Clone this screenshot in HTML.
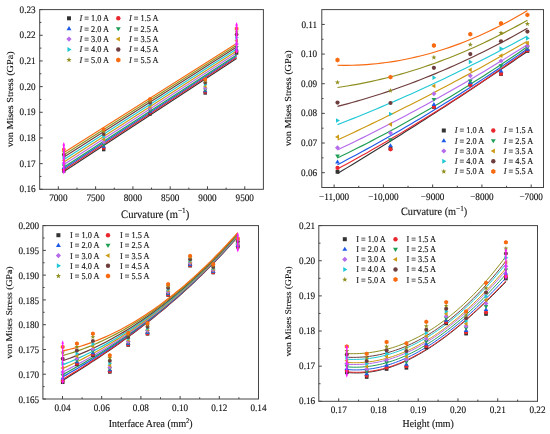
<!DOCTYPE html>
<html><head><meta charset="utf-8"><style>
html,body{margin:0;padding:0;background:#fff;}
svg{display:block;filter:blur(0.45px);}
text{font-family:'Liberation Serif', serif;fill:#111111;stroke:#111111;stroke-width:0.12px;text-rendering:geometricPrecision;}
</style></head><body>
<svg width="550" height="434" viewBox="0 0 550 434">
<rect width="550" height="434" fill="#fff"/>
<rect x="39.70" y="9.60" width="223.70" height="179.70" fill="none" stroke="#444444" stroke-width="1"/>
<path d="M58.34,189.30v-3.0M95.62,189.30v-3.0M132.91,189.30v-3.0M170.19,189.30v-3.0M207.47,189.30v-3.0M244.76,189.30v-3.0M76.98,189.30v-1.7M114.27,189.30v-1.7M151.55,189.30v-1.7M188.83,189.30v-1.7M226.12,189.30v-1.7M39.70,189.30h3.0M39.70,163.63h3.0M39.70,137.96h3.0M39.70,112.29h3.0M39.70,86.61h3.0M39.70,60.94h3.0M39.70,35.27h3.0M39.70,9.60h3.0M39.70,176.46h1.7M39.70,150.79h1.7M39.70,125.12h1.7M39.70,99.45h1.7M39.70,73.78h1.7M39.70,48.11h1.7M39.70,22.44h1.7" stroke="#444444" stroke-width="1" fill="none"/>
<text transform="translate(58.34,200.70) scale(1,1.08)" font-size="9.2" text-anchor="middle" >7000</text>
<text transform="translate(95.62,200.70) scale(1,1.08)" font-size="9.2" text-anchor="middle" >7500</text>
<text transform="translate(132.91,200.70) scale(1,1.08)" font-size="9.2" text-anchor="middle" >8000</text>
<text transform="translate(170.19,200.70) scale(1,1.08)" font-size="9.2" text-anchor="middle" >8500</text>
<text transform="translate(207.47,200.70) scale(1,1.08)" font-size="9.2" text-anchor="middle" >9000</text>
<text transform="translate(244.76,200.70) scale(1,1.08)" font-size="9.2" text-anchor="middle" >9500</text>
<text transform="translate(35.70,192.40) scale(1,1.08)" font-size="9.2" text-anchor="end" >0.16</text>
<text transform="translate(35.70,166.73) scale(1,1.08)" font-size="9.2" text-anchor="end" >0.17</text>
<text transform="translate(35.70,141.06) scale(1,1.08)" font-size="9.2" text-anchor="end" >0.18</text>
<text transform="translate(35.70,115.39) scale(1,1.08)" font-size="9.2" text-anchor="end" >0.19</text>
<text transform="translate(35.70,89.71) scale(1,1.08)" font-size="9.2" text-anchor="end" >0.20</text>
<text transform="translate(35.70,64.04) scale(1,1.08)" font-size="9.2" text-anchor="end" >0.21</text>
<text transform="translate(35.70,38.37) scale(1,1.08)" font-size="9.2" text-anchor="end" >0.22</text>
<text transform="translate(35.70,12.70) scale(1,1.08)" font-size="9.2" text-anchor="end" >0.23</text>
<text transform="translate(13.30,99.40) scale(0.9,1) rotate(-90)" x="0" y="0" font-size="10.2" text-anchor="middle">von Mises Stress (GPa)</text>
<text transform="translate(121.1,217.5) scale(1,1.08)" font-size="10.6">Curvature (m<tspan font-size="7.4" dy="-3.9">−1</tspan><tspan dy="3.9">)</tspan></text>
<rect x="67.00" y="16.30" width="4.00" height="4.00" fill="#333333"/>
<text transform="translate(79.50,21.20) scale(1,1.08)" font-size="8.3"><tspan font-style="italic">I</tspan> = 1.0 A</text>
<circle cx="118.30" cy="18.30" r="2.20" fill="#e8282e"/>
<text transform="translate(129.00,21.20) scale(1,1.08)" font-size="8.3"><tspan font-style="italic">I</tspan> = 1.5 A</text>
<path d="M69.00,26.10L71.47,30.26L66.53,30.26Z" fill="#1f5ae6"/>
<text transform="translate(79.50,31.60) scale(1,1.08)" font-size="8.3"><tspan font-style="italic">I</tspan> = 2.0 A</text>
<path d="M118.30,31.30L120.77,27.14L115.83,27.14Z" fill="#1f9e55"/>
<text transform="translate(129.00,31.60) scale(1,1.08)" font-size="8.3"><tspan font-style="italic">I</tspan> = 2.5 A</text>
<path d="M69.00,36.50L71.60,39.10L69.00,41.70L66.40,39.10Z" fill="#b56bea"/>
<text transform="translate(79.50,42.00) scale(1,1.08)" font-size="8.3"><tspan font-style="italic">I</tspan> = 3.0 A</text>
<path d="M115.70,39.10L119.86,36.63L119.86,41.57Z" fill="#cc9a14"/>
<text transform="translate(129.00,42.00) scale(1,1.08)" font-size="8.3"><tspan font-style="italic">I</tspan> = 3.5 A</text>
<path d="M71.60,49.50L67.44,47.03L67.44,51.97Z" fill="#1fc8d4"/>
<text transform="translate(79.50,52.40) scale(1,1.08)" font-size="8.3"><tspan font-style="italic">I</tspan> = 4.0 A</text>
<circle cx="118.30" cy="49.50" r="2.20" fill="#6e3d3d"/>
<text transform="translate(129.00,52.40) scale(1,1.08)" font-size="8.3"><tspan font-style="italic">I</tspan> = 4.5 A</text>
<polygon points="69.00,57.10 69.68,58.97 71.66,59.03 70.09,60.26 70.65,62.17 69.00,61.05 67.35,62.17 67.91,60.26 66.34,59.03 68.32,58.97" fill="#8f8f1f"/>
<text transform="translate(79.50,62.80) scale(1,1.08)" font-size="8.3"><tspan font-style="italic">I</tspan> = 5.0 A</text>
<polygon points="118.30,57.40 120.47,58.65 120.47,61.15 118.30,62.40 116.13,61.15 116.13,58.65" fill="#f76a10"/>
<text transform="translate(129.00,62.80) scale(1,1.08)" font-size="8.3"><tspan font-style="italic">I</tspan> = 5.5 A</text>
<path d="M64.00,171.50L236.60,58.50" stroke="#333333" stroke-width="1.1" fill="none"/>
<path d="M64.00,170.00L236.60,57.31" stroke="#e8282e" stroke-width="1.1" fill="none"/>
<path d="M64.00,168.50L236.60,56.13" stroke="#1f5ae6" stroke-width="1.1" fill="none"/>
<path d="M64.00,167.00L236.60,54.95" stroke="#1f9e55" stroke-width="1.1" fill="none"/>
<path d="M64.00,164.51L236.60,52.98" stroke="#b56bea" stroke-width="1.1" fill="none"/>
<path d="M64.00,162.00L236.60,51.00" stroke="#cc9a14" stroke-width="1.1" fill="none"/>
<path d="M64.00,159.49L236.60,49.02" stroke="#1fc8d4" stroke-width="1.1" fill="none"/>
<path d="M64.00,157.00L236.60,47.05" stroke="#6e3d3d" stroke-width="1.1" fill="none"/>
<path d="M64.00,154.80L236.60,45.31" stroke="#8f8f1f" stroke-width="1.1" fill="none"/>
<path d="M64.00,152.50L236.60,43.50" stroke="#f76a10" stroke-width="1.1" fill="none"/>
<rect x="62.10" y="169.30" width="3.40" height="3.40" fill="#333333"/>
<circle cx="63.80" cy="169.30" r="1.87" fill="#e8282e"/>
<path d="M63.80,165.39L65.90,168.93L61.70,168.93Z" fill="#1f5ae6"/>
<path d="M63.80,168.11L65.90,164.58L61.70,164.58Z" fill="#1f9e55"/>
<path d="M63.80,160.88L66.01,163.09L63.80,165.30L61.59,163.09Z" fill="#b56bea"/>
<path d="M61.59,160.25L65.13,158.15L65.13,162.35Z" fill="#cc9a14"/>
<path d="M66.01,157.41L62.47,155.31L62.47,159.51Z" fill="#1fc8d4"/>
<circle cx="63.80" cy="154.60" r="1.87" fill="#6e3d3d"/>
<polygon points="63.80,149.72 64.37,151.31 66.06,151.37 64.73,152.40 65.20,154.03 63.80,153.08 62.40,154.03 62.87,152.40 61.54,151.37 63.23,151.31" fill="#8f8f1f"/>
<polygon points="63.80,147.38 65.64,148.44 65.64,150.56 63.80,151.62 61.96,150.56 61.96,148.44" fill="#f76a10"/>
<rect x="102.00" y="147.90" width="3.40" height="3.40" fill="#333333"/>
<circle cx="103.70" cy="147.99" r="1.87" fill="#e8282e"/>
<path d="M103.70,144.17L105.80,147.70L101.60,147.70Z" fill="#1f5ae6"/>
<path d="M103.70,146.98L105.80,143.44L101.60,143.44Z" fill="#1f9e55"/>
<path d="M103.70,139.88L105.91,142.09L103.70,144.30L101.49,142.09Z" fill="#b56bea"/>
<path d="M101.49,139.40L105.03,137.30L105.03,141.50Z" fill="#cc9a14"/>
<path d="M105.91,136.71L102.37,134.61L102.37,138.81Z" fill="#1fc8d4"/>
<circle cx="103.70" cy="134.03" r="1.87" fill="#6e3d3d"/>
<polygon points="103.70,129.29 104.27,130.88 105.96,130.93 104.63,131.97 105.10,133.59 103.70,132.65 102.30,133.59 102.77,131.97 101.44,130.93 103.13,130.88" fill="#8f8f1f"/>
<polygon points="103.70,127.07 105.54,128.14 105.54,130.26 103.70,131.32 101.86,130.26 101.86,128.14" fill="#f76a10"/>
<rect x="148.40" y="112.30" width="3.40" height="3.40" fill="#333333"/>
<circle cx="150.10" cy="112.82" r="1.87" fill="#e8282e"/>
<path d="M150.10,109.44L152.20,112.97L148.00,112.97Z" fill="#1f5ae6"/>
<path d="M150.10,112.68L152.20,109.14L148.00,109.14Z" fill="#1f9e55"/>
<path d="M150.10,106.31L152.31,108.52L150.10,110.73L147.89,108.52Z" fill="#b56bea"/>
<path d="M147.89,106.55L151.43,104.45L151.43,108.65Z" fill="#cc9a14"/>
<path d="M152.31,104.58L148.77,102.48L148.77,106.68Z" fill="#1fc8d4"/>
<circle cx="150.10" cy="102.63" r="1.87" fill="#6e3d3d"/>
<polygon points="150.10,98.52 150.67,100.11 152.36,100.17 151.03,101.20 151.50,102.83 150.10,101.88 148.70,102.83 149.17,101.20 147.84,100.17 149.53,100.11" fill="#8f8f1f"/>
<polygon points="150.10,96.97 151.94,98.04 151.94,100.16 150.10,101.22 148.26,100.16 148.26,98.04" fill="#f76a10"/>
<rect x="203.50" y="91.30" width="3.40" height="3.40" fill="#333333"/>
<circle cx="205.20" cy="91.92" r="1.87" fill="#e8282e"/>
<path d="M205.20,88.63L207.30,92.16L203.10,92.16Z" fill="#1f5ae6"/>
<path d="M205.20,91.96L207.30,88.43L203.10,88.43Z" fill="#1f9e55"/>
<path d="M205.20,85.75L207.41,87.96L205.20,90.17L202.99,87.96Z" fill="#b56bea"/>
<path d="M202.99,86.15L206.53,84.05L206.53,88.25Z" fill="#cc9a14"/>
<path d="M207.41,84.34L203.87,82.24L203.87,86.44Z" fill="#1fc8d4"/>
<circle cx="205.20" cy="82.55" r="1.87" fill="#6e3d3d"/>
<polygon points="205.20,78.58 205.77,80.17 207.46,80.22 206.13,81.26 206.60,82.88 205.20,81.94 203.80,82.88 204.27,81.26 202.94,80.22 204.63,80.17" fill="#8f8f1f"/>
<polygon points="205.20,77.17 207.04,78.24 207.04,80.36 205.20,81.42 203.36,80.36 203.36,78.24" fill="#f76a10"/>
<rect x="234.90" y="51.30" width="3.40" height="3.40" fill="#333333"/>
<circle cx="236.60" cy="51.07" r="1.87" fill="#e8282e"/>
<path d="M236.60,46.93L238.70,50.47L234.50,50.47Z" fill="#1f5ae6"/>
<path d="M236.60,49.43L238.70,45.89L234.50,45.89Z" fill="#1f9e55"/>
<path d="M236.60,41.81L238.81,44.02L236.60,46.23L234.39,44.02Z" fill="#b56bea"/>
<path d="M234.39,40.80L237.93,38.70L237.93,42.90Z" fill="#cc9a14"/>
<path d="M238.81,37.58L235.27,35.48L235.27,39.68Z" fill="#1fc8d4"/>
<circle cx="236.60" cy="34.38" r="1.87" fill="#6e3d3d"/>
<polygon points="236.60,29.17 237.17,30.76 238.86,30.82 237.53,31.85 238.00,33.48 236.60,32.53 235.20,33.48 235.67,31.85 234.34,30.82 236.03,30.76" fill="#8f8f1f"/>
<polygon points="236.60,26.48 238.44,27.54 238.44,29.66 236.60,30.73 234.76,29.66 234.76,27.54" fill="#f76a10"/>
<path d="M63.80,142.00L65.20,145.50L64.65,145.50L64.65,171.00L65.20,171.00L63.80,174.50L62.40,171.00L62.95,171.00L62.95,145.50L62.40,145.50Z" fill="#ff1aff"/>
<path d="M236.60,21.90L238.00,25.40L237.45,25.40L237.45,50.50L238.00,50.50L236.60,54.00L235.20,50.50L235.75,50.50L235.75,25.40L235.20,25.40Z" fill="#ff1aff"/>
<rect x="321.80" y="9.60" width="221.70" height="177.90" fill="none" stroke="#444444" stroke-width="1"/>
<path d="M334.12,187.50v-3.0M383.38,187.50v-3.0M432.65,187.50v-3.0M481.92,187.50v-3.0M531.18,187.50v-3.0M358.75,187.50v-1.7M408.02,187.50v-1.7M457.28,187.50v-1.7M506.55,187.50v-1.7M321.80,172.68h3.0M321.80,143.03h3.0M321.80,113.38h3.0M321.80,83.73h3.0M321.80,54.07h3.0M321.80,24.43h3.0M321.80,157.85h1.7M321.80,128.20h1.7M321.80,98.55h1.7M321.80,68.90h1.7M321.80,39.25h1.7" stroke="#444444" stroke-width="1" fill="none"/>
<text transform="translate(334.12,199.50) scale(1,1.08)" font-size="9.2" text-anchor="middle" >−11,000</text>
<text transform="translate(383.38,199.50) scale(1,1.08)" font-size="9.2" text-anchor="middle" >−10,000</text>
<text transform="translate(432.65,199.50) scale(1,1.08)" font-size="9.2" text-anchor="middle" >−9000</text>
<text transform="translate(481.92,199.50) scale(1,1.08)" font-size="9.2" text-anchor="middle" >−8000</text>
<text transform="translate(531.18,199.50) scale(1,1.08)" font-size="9.2" text-anchor="middle" >−7000</text>
<text transform="translate(317.20,175.78) scale(1,1.08)" font-size="9.2" text-anchor="end" >0.06</text>
<text transform="translate(317.20,146.13) scale(1,1.08)" font-size="9.2" text-anchor="end" >0.07</text>
<text transform="translate(317.20,116.47) scale(1,1.08)" font-size="9.2" text-anchor="end" >0.08</text>
<text transform="translate(317.20,86.83) scale(1,1.08)" font-size="9.2" text-anchor="end" >0.09</text>
<text transform="translate(317.20,57.17) scale(1,1.08)" font-size="9.2" text-anchor="end" >0.10</text>
<text transform="translate(317.20,27.53) scale(1,1.08)" font-size="9.2" text-anchor="end" >0.11</text>
<text transform="translate(291.30,98.40) scale(0.9,1) rotate(-90)" x="0" y="0" font-size="10.2" text-anchor="middle">von Mises Stress (GPa)</text>
<text transform="translate(400.9,214.9) scale(1,1.08)" font-size="10.3">Curvature (m<tspan font-size="7.2" dy="-3.8">−1</tspan><tspan dy="3.8">)</tspan></text>
<rect x="441.80" y="128.50" width="4.00" height="4.00" fill="#333333"/>
<text transform="translate(454.70,133.40) scale(1,1.08)" font-size="8.3"><tspan font-style="italic">I</tspan> = 1.0 A</text>
<circle cx="493.30" cy="130.50" r="2.20" fill="#e8282e"/>
<text transform="translate(503.70,133.40) scale(1,1.08)" font-size="8.3"><tspan font-style="italic">I</tspan> = 1.5 A</text>
<path d="M443.80,138.15L446.27,142.31L441.33,142.31Z" fill="#1f5ae6"/>
<text transform="translate(454.70,143.65) scale(1,1.08)" font-size="8.3"><tspan font-style="italic">I</tspan> = 2.0 A</text>
<path d="M493.30,143.35L495.77,139.19L490.83,139.19Z" fill="#1f9e55"/>
<text transform="translate(503.70,143.65) scale(1,1.08)" font-size="8.3"><tspan font-style="italic">I</tspan> = 2.5 A</text>
<path d="M443.80,148.40L446.40,151.00L443.80,153.60L441.20,151.00Z" fill="#b56bea"/>
<text transform="translate(454.70,153.90) scale(1,1.08)" font-size="8.3"><tspan font-style="italic">I</tspan> = 3.0 A</text>
<path d="M490.70,151.00L494.86,148.53L494.86,153.47Z" fill="#cc9a14"/>
<text transform="translate(503.70,153.90) scale(1,1.08)" font-size="8.3"><tspan font-style="italic">I</tspan> = 3.5 A</text>
<path d="M446.40,161.25L442.24,158.78L442.24,163.72Z" fill="#1fc8d4"/>
<text transform="translate(454.70,164.15) scale(1,1.08)" font-size="8.3"><tspan font-style="italic">I</tspan> = 4.0 A</text>
<circle cx="493.30" cy="161.25" r="2.20" fill="#6e3d3d"/>
<text transform="translate(503.70,164.15) scale(1,1.08)" font-size="8.3"><tspan font-style="italic">I</tspan> = 4.5 A</text>
<polygon points="443.80,168.70 444.48,170.57 446.46,170.63 444.89,171.86 445.45,173.77 443.80,172.65 442.15,173.77 442.71,171.86 441.14,170.63 443.12,170.57" fill="#8f8f1f"/>
<text transform="translate(454.70,174.40) scale(1,1.08)" font-size="8.3"><tspan font-style="italic">I</tspan> = 5.0 A</text>
<polygon points="493.30,169.00 495.47,170.25 495.47,172.75 493.30,174.00 491.13,172.75 491.13,170.25" fill="#f76a10"/>
<text transform="translate(503.70,174.40) scale(1,1.08)" font-size="8.3"><tspan font-style="italic">I</tspan> = 5.5 A</text>
<path d="M337.50,173.48L342.37,170.56L347.24,167.63L352.11,164.68L356.98,161.73L361.85,158.76L366.72,155.78L371.58,152.79L376.45,149.79L381.32,146.79L386.19,143.76L391.06,140.73L395.93,137.69L400.80,134.64L405.67,131.57L410.54,128.50L415.41,125.41L420.28,122.32L425.15,119.21L430.02,116.09L434.88,112.96L439.75,109.82L444.62,106.67L449.49,103.51L454.36,100.34L459.23,97.16L464.10,93.96L468.97,90.76L473.84,87.54L478.71,84.31L483.58,81.08L488.45,77.83L493.32,74.57L498.18,71.30L503.05,68.02L507.92,64.73L512.79,61.43L517.66,58.11L522.53,54.79L527.40,51.45" stroke="#333333" stroke-width="1.15" fill="none"/>
<path d="M337.50,168.97L342.37,166.34L347.24,163.69L352.11,161.02L356.98,158.33L361.85,155.62L366.72,152.88L371.58,150.12L376.45,147.34L381.32,144.54L386.19,141.72L391.06,138.87L395.93,136.01L400.80,133.12L405.67,130.21L410.54,127.27L415.41,124.32L420.28,121.35L425.15,118.35L430.02,115.33L434.88,112.29L439.75,109.23L444.62,106.14L449.49,103.03L454.36,99.91L459.23,96.76L464.10,93.59L468.97,90.39L473.84,87.18L478.71,83.94L483.58,80.68L488.45,77.40L493.32,74.10L498.18,70.78L503.05,67.43L507.92,64.06L512.79,60.67L517.66,57.26L522.53,53.83L527.40,50.37" stroke="#e8282e" stroke-width="1.15" fill="none"/>
<path d="M337.50,164.71L342.37,162.17L347.24,159.60L352.11,157.02L356.98,154.41L361.85,151.77L366.72,149.12L371.58,146.44L376.45,143.74L381.32,141.01L386.19,138.27L391.06,135.50L395.93,132.71L400.80,129.90L405.67,127.06L410.54,124.20L415.41,121.32L420.28,118.42L425.15,115.49L430.02,112.55L434.88,109.58L439.75,106.58L444.62,103.57L449.49,100.53L454.36,97.47L459.23,94.39L464.10,91.28L468.97,88.15L473.84,85.00L478.71,81.83L483.58,78.64L488.45,75.42L493.32,72.18L498.18,68.92L503.05,65.63L507.92,62.33L512.79,59.00L517.66,55.64L522.53,52.27L527.40,48.87" stroke="#1f5ae6" stroke-width="1.15" fill="none"/>
<path d="M337.50,157.91L342.37,155.56L347.24,153.17L352.11,150.77L356.98,148.33L361.85,145.87L366.72,143.39L371.58,140.88L376.45,138.34L381.32,135.77L386.19,133.18L391.06,130.57L395.93,127.92L400.80,125.26L405.67,122.56L410.54,119.84L415.41,117.09L420.28,114.32L425.15,111.52L430.02,108.70L434.88,105.85L439.75,102.97L444.62,100.07L449.49,97.14L454.36,94.18L459.23,91.20L464.10,88.20L468.97,85.16L473.84,82.10L478.71,79.02L483.58,75.91L488.45,72.77L493.32,69.61L498.18,66.42L503.05,63.20L507.92,59.96L512.79,56.69L517.66,53.40L522.53,50.08L527.40,46.73" stroke="#1f9e55" stroke-width="1.15" fill="none"/>
<path d="M337.50,149.92L342.37,147.60L347.24,145.27L352.11,142.91L356.98,140.54L361.85,138.14L366.72,135.72L371.58,133.29L376.45,130.83L381.32,128.35L386.19,125.85L391.06,123.34L395.93,120.80L400.80,118.24L405.67,115.66L410.54,113.07L415.41,110.45L420.28,107.81L425.15,105.15L430.02,102.47L434.88,99.77L439.75,97.06L444.62,94.32L449.49,91.56L454.36,88.78L459.23,85.98L464.10,83.16L468.97,80.32L473.84,77.46L478.71,74.58L483.58,71.68L488.45,68.76L493.32,65.82L498.18,62.86L503.05,59.88L507.92,56.88L512.79,53.85L517.66,50.81L522.53,47.75L527.40,44.67" stroke="#b56bea" stroke-width="1.15" fill="none"/>
<path d="M337.50,139.94L342.37,137.69L347.24,135.43L352.11,133.15L356.98,130.86L361.85,128.55L366.72,126.23L371.58,123.89L376.45,121.54L381.32,119.17L386.19,116.79L391.06,114.39L395.93,111.97L400.80,109.55L405.67,107.10L410.54,104.65L415.41,102.17L420.28,99.69L425.15,97.18L430.02,94.67L434.88,92.13L439.75,89.58L444.62,87.02L449.49,84.44L454.36,81.85L459.23,79.24L464.10,76.62L468.97,73.98L473.84,71.33L478.71,68.66L483.58,65.98L488.45,63.28L493.32,60.57L498.18,57.84L503.05,55.09L507.92,52.34L512.79,49.56L517.66,46.77L522.53,43.97L527.40,41.15" stroke="#cc9a14" stroke-width="1.15" fill="none"/>
<path d="M337.50,124.63L342.37,122.74L347.24,120.83L352.11,118.90L356.98,116.95L361.85,114.98L366.72,112.99L371.58,110.98L376.45,108.95L381.32,106.90L386.19,104.83L391.06,102.74L395.93,100.62L400.80,98.49L405.67,96.34L410.54,94.17L415.41,91.98L420.28,89.77L425.15,87.53L430.02,85.28L434.88,83.01L439.75,80.72L444.62,78.41L449.49,76.07L454.36,73.72L459.23,71.35L464.10,68.95L468.97,66.54L473.84,64.11L478.71,61.65L483.58,59.18L488.45,56.69L493.32,54.17L498.18,51.64L503.05,49.09L507.92,46.51L512.79,43.92L517.66,41.30L522.53,38.67L527.40,36.01" stroke="#1fc8d4" stroke-width="1.15" fill="none"/>
<path d="M337.50,106.39L342.37,105.14L347.24,103.85L352.11,102.52L356.98,101.15L361.85,99.74L366.72,98.29L371.58,96.80L376.45,95.28L381.32,93.71L386.19,92.10L391.06,90.46L395.93,88.77L400.80,87.05L405.67,85.28L410.54,83.48L415.41,81.64L420.28,79.75L425.15,77.83L430.02,75.87L434.88,73.87L439.75,71.83L444.62,69.75L449.49,67.63L454.36,65.47L459.23,63.27L464.10,61.04L468.97,58.76L473.84,56.44L478.71,54.09L483.58,51.69L488.45,49.25L493.32,46.78L498.18,44.27L503.05,41.71L507.92,39.12L512.79,36.49L517.66,33.82L522.53,31.10L527.40,28.35" stroke="#6e3d3d" stroke-width="1.15" fill="none"/>
<path d="M337.50,87.45L342.37,86.74L347.24,85.99L352.11,85.17L356.98,84.31L361.85,83.39L366.72,82.42L371.58,81.39L376.45,80.31L381.32,79.18L386.19,77.99L391.06,76.75L395.93,75.46L400.80,74.11L405.67,72.71L410.54,71.25L415.41,69.74L420.28,68.18L425.15,66.56L430.02,64.89L434.88,63.17L439.75,61.39L444.62,59.55L449.49,57.67L454.36,55.73L459.23,53.74L464.10,51.69L468.97,49.59L473.84,47.43L478.71,45.22L483.58,42.96L488.45,40.64L493.32,38.27L498.18,35.85L503.05,33.37L507.92,30.84L512.79,28.26L517.66,25.62L522.53,22.92L527.40,20.18" stroke="#8f8f1f" stroke-width="1.15" fill="none"/>
<path d="M337.50,65.25L342.37,65.33L347.24,65.33L352.11,65.25L356.98,65.10L361.85,64.87L366.72,64.56L371.58,64.17L376.45,63.70L381.32,63.16L386.19,62.54L391.06,61.84L395.93,61.06L400.80,60.20L405.67,59.27L410.54,58.26L415.41,57.17L420.28,56.00L425.15,54.75L430.02,53.43L434.88,52.03L439.75,50.55L444.62,48.99L449.49,47.36L454.36,45.64L459.23,43.85L464.10,41.98L468.97,40.04L473.84,38.01L478.71,35.91L483.58,33.73L488.45,31.47L493.32,29.13L498.18,26.72L503.05,24.23L507.92,21.66L512.79,19.01L517.66,16.28L522.53,13.48L527.40,10.59" stroke="#f76a10" stroke-width="1.15" fill="none"/>
<rect x="335.60" y="169.90" width="3.80" height="3.80" fill="#333333"/>
<circle cx="337.50" cy="167.90" r="2.09" fill="#e8282e"/>
<path d="M337.50,159.53L339.85,163.48L335.15,163.48Z" fill="#1f5ae6"/>
<path d="M337.50,158.57L339.85,154.62L335.15,154.62Z" fill="#1f9e55"/>
<path d="M337.50,145.33L339.97,147.80L337.50,150.27L335.03,147.80Z" fill="#b56bea"/>
<path d="M335.03,136.90L338.98,134.55L338.98,139.25Z" fill="#cc9a14"/>
<path d="M339.97,120.50L336.02,118.15L336.02,122.85Z" fill="#1fc8d4"/>
<circle cx="337.50" cy="102.60" r="2.09" fill="#6e3d3d"/>
<polygon points="337.50,79.64 338.14,81.42 340.03,81.48 338.54,82.64 339.06,84.45 337.50,83.39 335.94,84.45 336.46,82.64 334.97,81.48 336.86,81.42" fill="#8f8f1f"/>
<polygon points="337.50,57.62 339.56,58.81 339.56,61.19 337.50,62.38 335.44,61.19 335.44,58.81" fill="#f76a10"/>
<rect x="388.60" y="146.60" width="3.80" height="3.80" fill="#333333"/>
<circle cx="390.50" cy="149.30" r="2.09" fill="#e8282e"/>
<path d="M390.50,143.13L392.85,147.08L388.15,147.08Z" fill="#1f5ae6"/>
<path d="M390.50,142.17L392.85,138.22L388.15,138.22Z" fill="#1f9e55"/>
<path d="M390.50,130.53L392.97,133.00L390.50,135.47L388.03,133.00Z" fill="#b56bea"/>
<path d="M388.03,124.30L391.98,121.95L391.98,126.65Z" fill="#cc9a14"/>
<path d="M392.97,114.00L389.02,111.65L389.02,116.35Z" fill="#1fc8d4"/>
<circle cx="390.50" cy="103.00" r="2.09" fill="#6e3d3d"/>
<polygon points="390.50,87.94 391.14,89.72 393.03,89.78 391.54,90.94 392.06,92.75 390.50,91.69 388.94,92.75 389.46,90.94 387.97,89.78 389.86,89.72" fill="#8f8f1f"/>
<polygon points="390.50,74.72 392.56,75.91 392.56,78.29 390.50,79.47 388.44,78.29 388.44,75.91" fill="#f76a10"/>
<rect x="432.00" y="105.10" width="3.80" height="3.80" fill="#333333"/>
<circle cx="433.90" cy="107.00" r="2.09" fill="#e8282e"/>
<path d="M433.90,102.03L436.25,105.98L431.55,105.98Z" fill="#1f5ae6"/>
<path d="M433.90,101.87L436.25,97.92L431.55,97.92Z" fill="#1f9e55"/>
<path d="M433.90,91.23L436.37,93.70L433.90,96.17L431.43,93.70Z" fill="#b56bea"/>
<path d="M431.43,86.00L435.38,83.65L435.38,88.35Z" fill="#cc9a14"/>
<path d="M436.37,77.70L432.42,75.35L432.42,80.05Z" fill="#1fc8d4"/>
<circle cx="433.90" cy="67.80" r="2.09" fill="#6e3d3d"/>
<polygon points="433.90,54.84 434.54,56.62 436.43,56.68 434.94,57.84 435.46,59.65 433.90,58.59 432.34,59.65 432.86,57.84 431.37,56.68 433.26,56.62" fill="#8f8f1f"/>
<polygon points="433.90,43.12 435.96,44.31 435.96,46.69 433.90,47.88 431.84,46.69 431.84,44.31" fill="#f76a10"/>
<rect x="468.40" y="82.60" width="3.80" height="3.80" fill="#333333"/>
<circle cx="470.30" cy="85.00" r="2.09" fill="#e8282e"/>
<path d="M470.30,80.13L472.65,84.08L467.95,84.08Z" fill="#1f5ae6"/>
<path d="M470.30,83.47L472.65,79.52L467.95,79.52Z" fill="#1f9e55"/>
<path d="M470.30,73.33L472.77,75.80L470.30,78.27L467.83,75.80Z" fill="#b56bea"/>
<path d="M467.83,69.80L471.78,67.45L471.78,72.15Z" fill="#cc9a14"/>
<path d="M472.77,61.90L468.82,59.55L468.82,64.25Z" fill="#1fc8d4"/>
<circle cx="470.30" cy="54.10" r="2.09" fill="#6e3d3d"/>
<polygon points="470.30,42.04 470.94,43.82 472.83,43.88 471.34,45.04 471.86,46.85 470.30,45.79 468.74,46.85 469.26,45.04 467.77,43.88 469.66,43.82" fill="#8f8f1f"/>
<polygon points="470.30,31.83 472.36,33.01 472.36,35.39 470.30,36.58 468.24,35.39 468.24,33.01" fill="#f76a10"/>
<rect x="499.10" y="72.10" width="3.80" height="3.80" fill="#333333"/>
<circle cx="501.00" cy="73.70" r="2.09" fill="#e8282e"/>
<path d="M501.00,68.43L503.35,72.38L498.65,72.38Z" fill="#1f5ae6"/>
<path d="M501.00,68.27L503.35,64.32L498.65,64.32Z" fill="#1f9e55"/>
<path d="M501.00,58.43L503.47,60.90L501.00,63.37L498.53,60.90Z" fill="#b56bea"/>
<path d="M498.53,55.70L502.48,53.35L502.48,58.05Z" fill="#cc9a14"/>
<path d="M503.47,48.50L499.52,46.15L499.52,50.85Z" fill="#1fc8d4"/>
<circle cx="501.00" cy="41.30" r="2.09" fill="#6e3d3d"/>
<polygon points="501.00,30.34 501.64,32.12 503.53,32.18 502.04,33.34 502.56,35.15 501.00,34.09 499.44,35.15 499.96,33.34 498.47,32.18 500.36,32.12" fill="#8f8f1f"/>
<polygon points="501.00,20.93 503.06,22.11 503.06,24.49 501.00,25.68 498.94,24.49 498.94,22.11" fill="#f76a10"/>
<rect x="525.50" y="49.10" width="3.80" height="3.80" fill="#333333"/>
<circle cx="527.40" cy="50.40" r="2.09" fill="#e8282e"/>
<path d="M527.40,46.83L529.75,50.78L525.05,50.78Z" fill="#1f5ae6"/>
<path d="M527.40,49.87L529.75,45.92L525.05,45.92Z" fill="#1f9e55"/>
<path d="M527.40,43.23L529.87,45.70L527.40,48.17L524.93,45.70Z" fill="#b56bea"/>
<path d="M524.93,43.10L528.88,40.75L528.88,45.45Z" fill="#cc9a14"/>
<path d="M529.87,38.30L525.92,35.95L525.92,40.65Z" fill="#1fc8d4"/>
<circle cx="527.40" cy="31.60" r="2.09" fill="#6e3d3d"/>
<polygon points="527.40,21.14 528.04,22.92 529.93,22.98 528.44,24.14 528.96,25.95 527.40,24.89 525.84,25.95 526.36,24.14 524.87,22.98 526.76,22.92" fill="#8f8f1f"/>
<polygon points="527.40,12.53 529.46,13.71 529.46,16.09 527.40,17.27 525.34,16.09 525.34,13.71" fill="#f76a10"/>
<rect x="42.90" y="225.60" width="215.60" height="173.40" fill="none" stroke="#444444" stroke-width="1"/>
<path d="M62.50,399.00v-3.0M101.70,399.00v-3.0M140.90,399.00v-3.0M180.10,399.00v-3.0M219.30,399.00v-3.0M258.50,399.00v-3.0M82.10,399.00v-1.7M121.30,399.00v-1.7M160.50,399.00v-1.7M199.70,399.00v-1.7M238.90,399.00v-1.7M42.90,399.00h3.0M42.90,374.23h3.0M42.90,349.46h3.0M42.90,324.69h3.0M42.90,299.91h3.0M42.90,275.14h3.0M42.90,250.37h3.0M42.90,225.60h3.0M42.90,386.61h1.7M42.90,361.84h1.7M42.90,337.07h1.7M42.90,312.30h1.7M42.90,287.53h1.7M42.90,262.76h1.7M42.90,237.99h1.7" stroke="#444444" stroke-width="1" fill="none"/>
<text transform="translate(62.50,410.50) scale(1,1.08)" font-size="9.2" text-anchor="middle" >0.04</text>
<text transform="translate(101.70,410.50) scale(1,1.08)" font-size="9.2" text-anchor="middle" >0.06</text>
<text transform="translate(140.90,410.50) scale(1,1.08)" font-size="9.2" text-anchor="middle" >0.08</text>
<text transform="translate(180.10,410.50) scale(1,1.08)" font-size="9.2" text-anchor="middle" >0.10</text>
<text transform="translate(219.30,410.50) scale(1,1.08)" font-size="9.2" text-anchor="middle" >0.12</text>
<text transform="translate(258.50,410.50) scale(1,1.08)" font-size="9.2" text-anchor="middle" >0.14</text>
<text transform="translate(39.20,402.60) scale(1,1.08)" font-size="9.2" text-anchor="end" >0.165</text>
<text transform="translate(39.20,377.83) scale(1,1.08)" font-size="9.2" text-anchor="end" >0.170</text>
<text transform="translate(39.20,353.06) scale(1,1.08)" font-size="9.2" text-anchor="end" >0.175</text>
<text transform="translate(39.20,328.29) scale(1,1.08)" font-size="9.2" text-anchor="end" >0.180</text>
<text transform="translate(39.20,303.51) scale(1,1.08)" font-size="9.2" text-anchor="end" >0.185</text>
<text transform="translate(39.20,278.74) scale(1,1.08)" font-size="9.2" text-anchor="end" >0.190</text>
<text transform="translate(39.20,253.97) scale(1,1.08)" font-size="9.2" text-anchor="end" >0.195</text>
<text transform="translate(39.20,229.20) scale(1,1.08)" font-size="9.2" text-anchor="end" >0.200</text>
<text transform="translate(11.50,312.50) scale(0.9,1) rotate(-90)" x="0" y="0" font-size="9.8" text-anchor="middle">von Mises Stress (GPa)</text>
<text transform="translate(150.7,427.4) scale(1,1.08)" font-size="9.9" text-anchor="middle">Interface Area (mm<tspan font-size="6.5" dy="-3.8">2</tspan><tspan dy="3.8">)</tspan></text>
<rect x="56.40" y="233.20" width="4.00" height="4.00" fill="#333333"/>
<text transform="translate(70.00,238.10) scale(1,1.08)" font-size="8.3">I = 1.0 A</text>
<circle cx="108.00" cy="235.20" r="2.20" fill="#e8282e"/>
<text transform="translate(120.00,238.10) scale(1,1.08)" font-size="8.3">I = 1.5 A</text>
<path d="M58.40,242.80L60.87,246.96L55.93,246.96Z" fill="#1f5ae6"/>
<text transform="translate(70.00,248.30) scale(1,1.08)" font-size="8.3">I = 2.0 A</text>
<path d="M108.00,248.00L110.47,243.84L105.53,243.84Z" fill="#1f9e55"/>
<text transform="translate(120.00,248.30) scale(1,1.08)" font-size="8.3">I = 2.5 A</text>
<path d="M58.40,253.00L61.00,255.60L58.40,258.20L55.80,255.60Z" fill="#b56bea"/>
<text transform="translate(70.00,258.50) scale(1,1.08)" font-size="8.3">I = 3.0 A</text>
<path d="M105.40,255.60L109.56,253.13L109.56,258.07Z" fill="#cc9a14"/>
<text transform="translate(120.00,258.50) scale(1,1.08)" font-size="8.3">I = 3.5 A</text>
<path d="M61.00,265.80L56.84,263.33L56.84,268.27Z" fill="#1fc8d4"/>
<text transform="translate(70.00,268.70) scale(1,1.08)" font-size="8.3">I = 4.0 A</text>
<circle cx="108.00" cy="265.80" r="2.20" fill="#6e3d3d"/>
<text transform="translate(120.00,268.70) scale(1,1.08)" font-size="8.3">I = 4.5 A</text>
<polygon points="58.40,273.20 59.08,275.07 61.06,275.13 59.49,276.36 60.05,278.27 58.40,277.15 56.75,278.27 57.31,276.36 55.74,275.13 57.72,275.07" fill="#8f8f1f"/>
<text transform="translate(70.00,278.90) scale(1,1.08)" font-size="8.3">I = 5.0 A</text>
<polygon points="108.00,273.50 110.17,274.75 110.17,277.25 108.00,278.50 105.83,277.25 105.83,274.75" fill="#f76a10"/>
<text transform="translate(120.00,278.90) scale(1,1.08)" font-size="8.3">I = 5.5 A</text>
<path d="M62.70,380.42L66.27,378.22L69.85,376.01L73.42,373.78L76.99,371.53L80.57,369.27L84.14,366.98L87.71,364.68L91.29,362.36L94.86,360.01L98.43,357.64L102.01,355.25L105.58,352.83L109.16,350.39L112.73,347.92L116.30,345.42L119.88,342.89L123.45,340.34L127.02,337.75L130.60,335.13L134.17,332.48L137.74,329.79L141.32,327.07L144.89,324.31L148.46,321.51L152.04,318.68L155.61,315.81L159.18,312.90L162.76,309.94L166.33,306.95L169.90,303.91L173.48,300.83L177.05,297.70L180.62,294.52L184.20,291.30L187.77,288.03L191.34,284.71L194.92,281.35L198.49,277.93L202.07,274.45L205.64,270.93L209.21,267.35L212.79,263.71L216.36,260.02L219.93,256.27L223.51,252.47L227.08,248.60L230.65,244.68L234.23,240.69L237.80,236.64" stroke="#333333" stroke-width="1.2" fill="none"/>
<path d="M62.70,379.33L66.27,377.18L69.85,375.02L73.42,372.84L76.99,370.64L80.57,368.42L84.14,366.18L87.71,363.91L91.29,361.63L94.86,359.32L98.43,356.99L102.01,354.63L105.58,352.24L109.16,349.83L112.73,347.39L116.30,344.92L119.88,342.41L123.45,339.88L127.02,337.32L130.60,334.72L134.17,332.09L137.74,329.42L141.32,326.71L144.89,323.97L148.46,321.19L152.04,318.38L155.61,315.52L159.18,312.62L162.76,309.68L166.33,306.69L169.90,303.66L173.48,300.59L177.05,297.47L180.62,294.30L184.20,291.09L187.77,287.83L191.34,284.52L194.92,281.15L198.49,277.74L202.07,274.27L205.64,270.75L209.21,267.17L212.79,263.54L216.36,259.86L219.93,256.11L223.51,252.31L227.08,248.45L230.65,244.52L234.23,240.54L237.80,236.49" stroke="#e8282e" stroke-width="1.2" fill="none"/>
<path d="M62.70,376.91L66.27,374.88L69.85,372.83L73.42,370.75L76.99,368.65L80.57,366.53L84.14,364.38L87.71,362.21L91.29,360.01L94.86,357.78L98.43,355.53L102.01,353.24L105.58,350.93L109.16,348.58L112.73,346.20L116.30,343.79L119.88,341.35L123.45,338.87L127.02,336.36L130.60,333.81L134.17,331.22L137.74,328.60L141.32,325.93L144.89,323.23L148.46,320.49L152.04,317.70L155.61,314.87L159.18,312.00L162.76,309.09L166.33,306.13L169.90,303.12L173.48,300.07L177.05,296.97L180.62,293.82L184.20,290.62L187.77,287.38L191.34,284.08L194.92,280.73L198.49,277.32L202.07,273.87L205.64,270.36L209.21,266.79L212.79,263.17L216.36,259.49L219.93,255.75L223.51,251.95L227.08,248.10L230.65,244.18L234.23,240.20L237.80,236.16" stroke="#1f5ae6" stroke-width="1.2" fill="none"/>
<path d="M62.70,374.61L66.27,372.69L69.85,370.74L73.42,368.77L76.99,366.77L80.57,364.74L84.14,362.68L87.71,360.59L91.29,358.47L94.86,356.32L98.43,354.14L102.01,351.93L105.58,349.68L109.16,347.40L112.73,345.08L116.30,342.73L119.88,340.34L123.45,337.91L127.02,335.45L130.60,332.94L134.17,330.40L137.74,327.81L141.32,325.19L144.89,322.52L148.46,319.81L152.04,317.06L155.61,314.26L159.18,311.42L162.76,308.53L166.33,305.59L169.90,302.61L173.48,299.57L177.05,296.49L180.62,293.36L184.20,290.18L187.77,286.95L191.34,283.66L194.92,280.32L198.49,276.93L202.07,273.48L205.64,269.98L209.21,266.42L212.79,262.81L216.36,259.14L219.93,255.41L223.51,251.62L227.08,247.76L230.65,243.85L234.23,239.88L237.80,235.85" stroke="#1f9e55" stroke-width="1.2" fill="none"/>
<path d="M62.70,371.99L66.27,370.19L69.85,368.37L73.42,366.51L76.99,364.62L80.57,362.69L84.14,360.74L87.71,358.74L91.29,356.72L94.86,354.66L98.43,352.56L102.01,350.43L105.58,348.26L109.16,346.05L112.73,343.80L116.30,341.51L119.88,339.18L123.45,336.82L127.02,334.41L130.60,331.96L134.17,329.46L137.74,326.92L141.32,324.34L144.89,321.71L148.46,319.04L152.04,316.32L155.61,313.56L159.18,310.75L162.76,307.89L166.33,304.98L169.90,302.02L173.48,299.01L177.05,295.95L180.62,292.84L184.20,289.67L187.77,286.46L191.34,283.18L194.92,279.86L198.49,276.48L202.07,273.05L205.64,269.55L209.21,266.01L212.79,262.40L216.36,258.74L219.93,255.01L223.51,251.23L227.08,247.39L230.65,243.48L234.23,239.52L237.80,235.49" stroke="#b56bea" stroke-width="1.2" fill="none"/>
<path d="M62.70,368.48L66.27,366.85L69.85,365.19L73.42,363.48L76.99,361.74L80.57,359.96L84.14,358.14L87.71,356.27L91.29,354.37L94.86,352.43L98.43,350.45L102.01,348.42L105.58,346.35L109.16,344.24L112.73,342.08L116.30,339.88L119.88,337.64L123.45,335.35L127.02,333.02L130.60,330.63L134.17,328.21L137.74,325.73L141.32,323.21L144.89,320.64L148.46,318.01L152.04,315.34L155.61,312.62L159.18,309.85L162.76,307.03L166.33,304.16L169.90,301.23L173.48,298.25L177.05,295.22L180.62,292.13L184.20,288.99L187.77,285.80L191.34,282.55L194.92,279.24L198.49,275.88L202.07,272.46L205.64,268.98L209.21,265.45L212.79,261.85L216.36,258.20L219.93,254.49L223.51,250.71L227.08,246.88L230.65,242.99L234.23,239.03L237.80,235.01" stroke="#cc9a14" stroke-width="1.2" fill="none"/>
<path d="M62.70,364.89L66.27,363.43L69.85,361.93L73.42,360.38L76.99,358.79L80.57,357.15L84.14,355.47L87.71,353.74L91.29,351.97L94.86,350.15L98.43,348.28L102.01,346.36L105.58,344.40L109.16,342.39L112.73,340.33L116.30,338.22L119.88,336.06L123.45,333.85L127.02,331.59L130.60,329.28L134.17,326.92L137.74,324.51L141.32,322.04L144.89,319.53L148.46,316.96L152.04,314.34L155.61,311.66L159.18,308.94L162.76,306.15L166.33,303.32L169.90,300.42L173.48,297.48L177.05,294.47L180.62,291.41L184.20,288.30L187.77,285.13L191.34,281.90L194.92,278.61L198.49,275.26L202.07,271.86L205.64,268.40L209.21,264.87L212.79,261.29L216.36,257.65L219.93,253.95L223.51,250.19L227.08,246.36L230.65,242.48L234.23,238.53L237.80,234.52" stroke="#1fc8d4" stroke-width="1.2" fill="none"/>
<path d="M62.70,360.76L66.27,359.50L69.85,358.19L73.42,356.82L76.99,355.40L80.57,353.93L84.14,352.41L87.71,350.84L91.29,349.21L94.86,347.53L98.43,345.79L102.01,344.00L105.58,342.16L109.16,340.26L112.73,338.31L116.30,336.30L119.88,334.24L123.45,332.13L127.02,329.95L130.60,327.73L134.17,325.44L137.74,323.11L141.32,320.71L144.89,318.26L148.46,315.75L152.04,313.19L155.61,310.56L159.18,307.88L162.76,305.15L166.33,302.35L169.90,299.50L173.48,296.59L177.05,293.62L180.62,290.59L184.20,287.50L187.77,284.35L191.34,281.15L194.92,277.88L198.49,274.56L202.07,271.17L205.64,267.72L209.21,264.22L212.79,260.65L216.36,257.02L219.93,253.33L223.51,249.58L227.08,245.77L230.65,241.89L234.23,237.96L237.80,233.96" stroke="#6e3d3d" stroke-width="1.2" fill="none"/>
<path d="M62.70,355.55L66.27,354.53L69.85,353.46L73.42,352.32L76.99,351.13L80.57,349.87L84.14,348.54L87.71,347.16L91.29,345.72L94.86,344.21L98.43,342.65L102.01,341.02L105.58,339.33L109.16,337.57L112.73,335.76L116.30,333.88L119.88,331.95L123.45,329.95L127.02,327.89L130.60,325.76L134.17,323.58L137.74,321.33L141.32,319.02L144.89,316.65L148.46,314.22L152.04,311.73L155.61,309.17L159.18,306.55L162.76,303.87L166.33,301.13L169.90,298.33L173.48,295.46L177.05,292.53L180.62,289.54L184.20,286.49L187.77,283.38L191.34,280.20L194.92,276.96L198.49,273.66L202.07,270.30L205.64,266.87L209.21,263.39L212.79,259.84L216.36,256.22L219.93,252.55L223.51,248.81L227.08,245.01L230.65,241.15L234.23,237.23L237.80,233.24" stroke="#8f8f1f" stroke-width="1.2" fill="none"/>
<path d="M62.70,350.95L66.27,350.16L69.85,349.29L73.42,348.36L76.99,347.35L80.57,346.28L84.14,345.14L87.71,343.92L91.29,342.64L94.86,341.29L98.43,339.87L102.01,338.39L105.58,336.83L109.16,335.20L112.73,333.51L116.30,331.75L119.88,329.92L123.45,328.03L127.02,326.06L130.60,324.03L134.17,321.93L137.74,319.77L141.32,317.54L144.89,315.24L148.46,312.87L152.04,310.44L155.61,307.94L159.18,305.38L162.76,302.75L166.33,300.06L169.90,297.30L173.48,294.47L177.05,291.58L180.62,288.62L184.20,285.60L187.77,282.52L191.34,279.37L194.92,276.15L198.49,272.87L202.07,269.53L205.64,266.12L209.21,262.65L212.79,259.12L216.36,255.52L219.93,251.86L223.51,248.14L227.08,244.35L230.65,240.50L234.23,236.59L237.80,232.62" stroke="#f76a10" stroke-width="1.2" fill="none"/>
<rect x="60.90" y="380.40" width="3.60" height="3.60" fill="#333333"/>
<circle cx="62.70" cy="380.89" r="1.98" fill="#e8282e"/>
<path d="M62.70,375.66L64.92,379.40L60.48,379.40Z" fill="#1f5ae6"/>
<path d="M62.70,377.59L64.92,373.84L60.48,373.84Z" fill="#1f9e55"/>
<path d="M62.70,369.76L65.04,372.10L62.70,374.44L60.36,372.10Z" fill="#b56bea"/>
<path d="M60.36,367.90L64.10,365.68L64.10,370.13Z" fill="#cc9a14"/>
<path d="M65.04,363.60L61.30,361.37L61.30,365.82Z" fill="#1fc8d4"/>
<circle cx="62.70" cy="358.65" r="1.98" fill="#6e3d3d"/>
<polygon points="62.70,349.89 63.31,351.57 65.10,351.63 63.68,352.73 64.18,354.45 62.70,353.44 61.22,354.45 61.72,352.73 60.30,351.63 62.09,351.57" fill="#8f8f1f"/>
<polygon points="62.70,344.65 64.65,345.77 64.65,348.02 62.70,349.15 60.75,348.02 60.75,345.77" fill="#f76a10"/>
<rect x="75.10" y="362.60" width="3.60" height="3.60" fill="#333333"/>
<circle cx="76.90" cy="363.63" r="1.98" fill="#e8282e"/>
<path d="M76.90,359.58L79.12,363.33L74.68,363.33Z" fill="#1f5ae6"/>
<path d="M76.90,362.64L79.12,358.90L74.68,358.90Z" fill="#1f9e55"/>
<path d="M76.90,356.11L79.24,358.45L76.90,360.79L74.56,358.45Z" fill="#b56bea"/>
<path d="M74.56,355.98L78.30,353.75L78.30,358.20Z" fill="#cc9a14"/>
<path d="M79.24,353.44L75.50,351.22L75.50,355.66Z" fill="#1fc8d4"/>
<circle cx="76.90" cy="350.53" r="1.98" fill="#6e3d3d"/>
<polygon points="76.90,344.32 77.51,346.01 79.30,346.07 77.88,347.16 78.38,348.88 76.90,347.88 75.42,348.88 75.92,347.16 74.50,346.07 76.29,346.01" fill="#8f8f1f"/>
<polygon points="76.90,341.35 78.85,342.48 78.85,344.73 76.90,345.85 74.95,344.73 74.95,342.48" fill="#f76a10"/>
<rect x="91.10" y="353.50" width="3.60" height="3.60" fill="#333333"/>
<circle cx="92.90" cy="354.50" r="1.98" fill="#e8282e"/>
<path d="M92.90,350.39L95.12,354.13L90.68,354.13Z" fill="#1f5ae6"/>
<path d="M92.90,353.38L95.12,349.64L90.68,349.64Z" fill="#1f9e55"/>
<path d="M92.90,346.78L95.24,349.12L92.90,351.46L90.56,349.12Z" fill="#b56bea"/>
<path d="M90.56,346.55L94.30,344.33L94.30,348.78Z" fill="#cc9a14"/>
<path d="M95.24,343.92L91.50,341.69L91.50,346.14Z" fill="#1fc8d4"/>
<circle cx="92.90" cy="340.89" r="1.98" fill="#6e3d3d"/>
<polygon points="92.90,334.55 93.51,336.23 95.30,336.29 93.88,337.39 94.38,339.11 92.90,338.10 91.42,339.11 91.92,337.39 90.50,336.29 92.29,336.23" fill="#8f8f1f"/>
<polygon points="92.90,331.45 94.85,332.57 94.85,334.82 92.90,335.95 90.95,334.82 90.95,332.57" fill="#f76a10"/>
<rect x="108.00" y="370.10" width="3.60" height="3.60" fill="#333333"/>
<circle cx="109.80" cy="371.29" r="1.98" fill="#e8282e"/>
<path d="M109.80,367.58L112.02,371.33L107.58,371.33Z" fill="#1f5ae6"/>
<path d="M109.80,370.97L112.02,367.23L107.58,367.23Z" fill="#1f9e55"/>
<path d="M109.80,364.81L112.14,367.15L109.80,369.49L107.46,367.15Z" fill="#b56bea"/>
<path d="M107.46,365.18L111.20,362.95L111.20,367.40Z" fill="#cc9a14"/>
<path d="M112.14,363.15L108.40,360.93L108.40,365.37Z" fill="#1fc8d4"/>
<circle cx="109.80" cy="360.83" r="1.98" fill="#6e3d3d"/>
<polygon points="109.80,355.37 110.41,357.05 112.20,357.11 110.78,358.21 111.28,359.93 109.80,358.92 108.32,359.93 108.82,358.21 107.40,357.11 109.19,357.05" fill="#8f8f1f"/>
<polygon points="109.80,353.05 111.75,354.18 111.75,356.43 109.80,357.55 107.85,356.43 107.85,354.18" fill="#f76a10"/>
<rect x="126.40" y="343.20" width="3.60" height="3.60" fill="#333333"/>
<circle cx="128.20" cy="344.55" r="1.98" fill="#e8282e"/>
<path d="M128.20,341.22L130.42,344.96L125.98,344.96Z" fill="#1f5ae6"/>
<path d="M128.20,344.96L130.42,341.21L125.98,341.21Z" fill="#1f9e55"/>
<path d="M128.20,339.20L130.54,341.54L128.20,343.88L125.86,341.54Z" fill="#b56bea"/>
<path d="M125.86,340.10L129.60,337.88L129.60,342.32Z" fill="#cc9a14"/>
<path d="M130.54,338.62L126.80,336.40L126.80,340.85Z" fill="#1fc8d4"/>
<circle cx="128.20" cy="336.93" r="1.98" fill="#6e3d3d"/>
<polygon points="128.20,332.27 128.81,333.95 130.60,334.01 129.18,335.11 129.68,336.83 128.20,335.82 126.72,336.83 127.22,335.11 125.80,334.01 127.59,333.95" fill="#8f8f1f"/>
<polygon points="128.20,330.65 130.15,331.77 130.15,334.02 128.20,335.15 126.25,334.02 126.25,331.77" fill="#f76a10"/>
<rect x="145.70" y="332.00" width="3.60" height="3.60" fill="#333333"/>
<circle cx="147.50" cy="333.41" r="1.98" fill="#e8282e"/>
<path d="M147.50,330.20L149.72,333.94L145.28,333.94Z" fill="#1f5ae6"/>
<path d="M147.50,334.05L149.72,330.31L145.28,330.31Z" fill="#1f9e55"/>
<path d="M147.50,328.43L149.84,330.77L147.50,333.11L145.16,330.77Z" fill="#b56bea"/>
<path d="M145.16,329.51L148.90,327.28L148.90,331.73Z" fill="#cc9a14"/>
<path d="M149.84,328.21L146.10,325.99L146.10,330.44Z" fill="#1fc8d4"/>
<circle cx="147.50" cy="326.73" r="1.98" fill="#6e3d3d"/>
<polygon points="147.50,322.33 148.11,324.02 149.90,324.07 148.48,325.17 148.98,326.89 147.50,325.89 146.02,326.89 146.52,325.17 145.10,324.07 146.89,324.02" fill="#8f8f1f"/>
<polygon points="147.50,320.95 149.45,322.07 149.45,324.32 147.50,325.45 145.55,324.32 145.55,322.07" fill="#f76a10"/>
<rect x="166.30" y="293.20" width="3.60" height="3.60" fill="#333333"/>
<circle cx="168.10" cy="294.60" r="1.98" fill="#e8282e"/>
<path d="M168.10,291.37L170.32,295.12L165.88,295.12Z" fill="#1f5ae6"/>
<path d="M168.10,295.21L170.32,291.47L165.88,291.47Z" fill="#1f9e55"/>
<path d="M168.10,289.57L170.44,291.91L168.10,294.25L165.76,291.91Z" fill="#b56bea"/>
<path d="M165.76,290.63L169.50,288.40L169.50,292.85Z" fill="#cc9a14"/>
<path d="M170.44,289.31L166.70,287.09L166.70,291.53Z" fill="#1fc8d4"/>
<circle cx="168.10" cy="287.80" r="1.98" fill="#6e3d3d"/>
<polygon points="168.10,283.36 168.71,285.05 170.50,285.11 169.08,286.20 169.58,287.92 168.10,286.92 166.62,287.92 167.12,286.20 165.70,285.11 167.49,285.05" fill="#8f8f1f"/>
<polygon points="168.10,281.95 170.05,283.07 170.05,285.32 168.10,286.45 166.15,285.32 166.15,283.07" fill="#f76a10"/>
<rect x="188.30" y="263.90" width="3.60" height="3.60" fill="#333333"/>
<circle cx="190.10" cy="265.34" r="1.98" fill="#e8282e"/>
<path d="M190.10,262.19L192.32,265.94L187.88,265.94Z" fill="#1f5ae6"/>
<path d="M190.10,266.11L192.32,262.37L187.88,262.37Z" fill="#1f9e55"/>
<path d="M190.10,260.56L192.44,262.90L190.10,265.24L187.76,262.90Z" fill="#b56bea"/>
<path d="M187.76,261.73L191.50,259.51L191.50,263.95Z" fill="#cc9a14"/>
<path d="M192.44,260.54L188.70,258.31L188.70,262.76Z" fill="#1fc8d4"/>
<circle cx="190.10" cy="259.16" r="1.98" fill="#6e3d3d"/>
<polygon points="190.10,254.91 190.71,256.59 192.50,256.65 191.08,257.75 191.58,259.47 190.10,258.46 188.62,259.47 189.12,257.75 187.70,256.65 189.49,256.59" fill="#8f8f1f"/>
<polygon points="190.10,253.65 192.05,254.78 192.05,257.02 190.10,258.15 188.15,257.03 188.15,254.78" fill="#f76a10"/>
<rect x="211.40" y="270.70" width="3.60" height="3.60" fill="#333333"/>
<circle cx="213.20" cy="272.19" r="1.98" fill="#e8282e"/>
<path d="M213.20,269.17L215.42,272.92L210.98,272.92Z" fill="#1f5ae6"/>
<path d="M213.20,273.20L215.42,269.46L210.98,269.46Z" fill="#1f9e55"/>
<path d="M213.20,267.79L215.54,270.13L213.20,272.47L210.86,270.13Z" fill="#b56bea"/>
<path d="M210.86,269.14L214.60,266.92L214.60,271.36Z" fill="#cc9a14"/>
<path d="M215.54,268.13L211.80,265.90L211.80,270.35Z" fill="#1fc8d4"/>
<circle cx="213.20" cy="266.96" r="1.98" fill="#6e3d3d"/>
<polygon points="213.20,262.97 213.81,264.66 215.60,264.72 214.18,265.81 214.68,267.53 213.20,266.53 211.72,267.53 212.22,265.81 210.80,264.72 212.59,264.66" fill="#8f8f1f"/>
<polygon points="213.20,261.95 215.15,263.07 215.15,265.32 213.20,266.45 211.25,265.32 211.25,263.07" fill="#f76a10"/>
<rect x="236.00" y="244.90" width="3.60" height="3.60" fill="#333333"/>
<circle cx="237.80" cy="246.39" r="1.98" fill="#e8282e"/>
<path d="M237.80,243.37L240.02,247.12L235.58,247.12Z" fill="#1f5ae6"/>
<path d="M237.80,247.40L240.02,243.66L235.58,243.66Z" fill="#1f9e55"/>
<path d="M237.80,241.99L240.14,244.33L237.80,246.67L235.46,244.33Z" fill="#b56bea"/>
<path d="M235.46,243.34L239.20,241.12L239.20,245.56Z" fill="#cc9a14"/>
<path d="M240.14,242.33L236.40,240.10L236.40,244.55Z" fill="#1fc8d4"/>
<circle cx="237.80" cy="241.16" r="1.98" fill="#6e3d3d"/>
<polygon points="237.80,237.17 238.41,238.86 240.20,238.92 238.78,240.01 239.28,241.73 237.80,240.73 236.32,241.73 236.82,240.01 235.40,238.92 237.19,238.86" fill="#8f8f1f"/>
<polygon points="237.80,236.15 239.75,237.28 239.75,239.53 237.80,240.65 235.85,239.53 235.85,237.28" fill="#f76a10"/>
<path d="M62.70,340.20L64.00,343.70L63.30,343.70L63.30,381.00L64.00,381.00L62.70,384.50L61.40,381.00L62.10,381.00L62.10,343.70L61.40,343.70Z" fill="#ff1aff"/>
<path d="M237.80,232.30L239.10,235.80L238.50,235.80L238.50,248.90L239.10,248.90L237.80,252.40L236.50,248.90L237.10,248.90L237.10,235.80L236.50,235.80Z" fill="#ff1aff"/>
<rect x="318.80" y="225.60" width="218.70" height="175.70" fill="none" stroke="#444444" stroke-width="1"/>
<path d="M338.68,401.30v-3.0M378.45,401.30v-3.0M418.21,401.30v-3.0M457.97,401.30v-3.0M497.74,401.30v-3.0M537.50,401.30v-3.0M358.56,401.30v-1.7M398.33,401.30v-1.7M438.09,401.30v-1.7M477.85,401.30v-1.7M517.62,401.30v-1.7M318.80,401.30h3.0M318.80,366.16h3.0M318.80,331.02h3.0M318.80,295.88h3.0M318.80,260.74h3.0M318.80,225.60h3.0M318.80,383.73h1.7M318.80,348.59h1.7M318.80,313.45h1.7M318.80,278.31h1.7M318.80,243.17h1.7" stroke="#444444" stroke-width="1" fill="none"/>
<text transform="translate(338.68,412.80) scale(1,1.08)" font-size="9.2" text-anchor="middle" >0.17</text>
<text transform="translate(378.45,412.80) scale(1,1.08)" font-size="9.2" text-anchor="middle" >0.18</text>
<text transform="translate(418.21,412.80) scale(1,1.08)" font-size="9.2" text-anchor="middle" >0.19</text>
<text transform="translate(457.97,412.80) scale(1,1.08)" font-size="9.2" text-anchor="middle" >0.20</text>
<text transform="translate(497.74,412.80) scale(1,1.08)" font-size="9.2" text-anchor="middle" >0.21</text>
<text transform="translate(537.50,412.80) scale(1,1.08)" font-size="9.2" text-anchor="middle" >0.22</text>
<text transform="translate(315.20,404.40) scale(1,1.08)" font-size="9.2" text-anchor="end" >0.16</text>
<text transform="translate(315.20,369.26) scale(1,1.08)" font-size="9.2" text-anchor="end" >0.17</text>
<text transform="translate(315.20,334.12) scale(1,1.08)" font-size="9.2" text-anchor="end" >0.18</text>
<text transform="translate(315.20,298.98) scale(1,1.08)" font-size="9.2" text-anchor="end" >0.19</text>
<text transform="translate(315.20,263.84) scale(1,1.08)" font-size="9.2" text-anchor="end" >0.20</text>
<text transform="translate(315.20,228.70) scale(1,1.08)" font-size="9.2" text-anchor="end" >0.21</text>
<text transform="translate(291.30,311.40) scale(0.9,1) rotate(-90)" x="0" y="0" font-size="9.6" text-anchor="middle">von Mises Stress (GPa)</text>
<text transform="translate(428.2,427.4) scale(1,1.08)" font-size="9.9" text-anchor="middle">Height (mm)</text>
<rect x="342.80" y="237.20" width="4.00" height="4.00" fill="#333333"/>
<text transform="translate(356.20,242.10) scale(1,1.08)" font-size="8.3">I = 1.0 A</text>
<circle cx="395.50" cy="239.20" r="2.20" fill="#e8282e"/>
<text transform="translate(406.40,242.10) scale(1,1.08)" font-size="8.3">I = 1.5 A</text>
<path d="M344.80,246.70L347.27,250.86L342.33,250.86Z" fill="#1f5ae6"/>
<text transform="translate(356.20,252.20) scale(1,1.08)" font-size="8.3">I = 2.0 A</text>
<path d="M395.50,251.90L397.97,247.74L393.03,247.74Z" fill="#1f9e55"/>
<text transform="translate(406.40,252.20) scale(1,1.08)" font-size="8.3">I = 2.5 A</text>
<path d="M344.80,256.80L347.40,259.40L344.80,262.00L342.20,259.40Z" fill="#b56bea"/>
<text transform="translate(356.20,262.30) scale(1,1.08)" font-size="8.3">I = 3.0 A</text>
<path d="M392.90,259.40L397.06,256.93L397.06,261.87Z" fill="#cc9a14"/>
<text transform="translate(406.40,262.30) scale(1,1.08)" font-size="8.3">I = 3.5 A</text>
<path d="M347.40,269.50L343.24,267.03L343.24,271.97Z" fill="#1fc8d4"/>
<text transform="translate(356.20,272.40) scale(1,1.08)" font-size="8.3">I = 4.0 A</text>
<circle cx="395.50" cy="269.50" r="2.20" fill="#6e3d3d"/>
<text transform="translate(406.40,272.40) scale(1,1.08)" font-size="8.3">I = 4.5 A</text>
<polygon points="344.80,276.80 345.48,278.67 347.46,278.73 345.89,279.96 346.45,281.87 344.80,280.75 343.15,281.87 343.71,279.96 342.14,278.73 344.12,278.67" fill="#8f8f1f"/>
<text transform="translate(356.20,282.50) scale(1,1.08)" font-size="8.3">I = 5.0 A</text>
<polygon points="395.50,277.10 397.67,278.35 397.67,280.85 395.50,282.10 393.33,280.85 393.33,278.35" fill="#f76a10"/>
<text transform="translate(406.40,282.50) scale(1,1.08)" font-size="8.3">I = 5.5 A</text>
<path d="M346.80,372.46L350.05,372.75L353.29,372.91L356.54,372.97L359.79,372.91L363.03,372.74L366.28,372.47L369.53,372.09L372.78,371.60L376.02,371.01L379.27,370.32L382.52,369.53L385.76,368.64L389.01,367.65L392.26,366.57L395.50,365.39L398.75,364.13L402.00,362.77L405.24,361.33L408.49,359.80L411.74,358.18L414.99,356.48L418.23,354.70L421.48,352.84L424.73,350.90L427.97,348.88L431.22,346.79L434.47,344.63L437.71,342.39L440.96,340.08L444.21,337.71L447.46,335.27L450.70,332.76L453.95,330.19L457.20,327.56L460.44,324.87L463.69,322.12L466.94,319.31L470.18,316.45L473.43,313.53L476.68,310.56L479.92,307.55L483.17,304.48L486.42,301.37L489.67,298.21L492.91,295.01L496.16,291.76L499.41,288.48L502.65,285.16L505.90,281.80" stroke="#333333" stroke-width="1.0" fill="none"/>
<path d="M346.80,371.82L350.05,372.10L353.29,372.26L356.54,372.31L359.79,372.25L363.03,372.08L366.28,371.81L369.53,371.42L372.78,370.94L376.02,370.35L379.27,369.66L382.52,368.87L385.76,367.99L389.01,367.01L392.26,365.93L395.50,364.76L398.75,363.50L402.00,362.15L405.24,360.71L408.49,359.18L411.74,357.57L414.99,355.88L418.23,354.10L421.48,352.24L424.73,350.31L427.97,348.29L431.22,346.21L434.47,344.04L437.71,341.81L440.96,339.50L444.21,337.13L447.46,334.68L450.70,332.17L453.95,329.60L457.20,326.96L460.44,324.27L463.69,321.51L466.94,318.69L470.18,315.82L473.43,312.89L476.68,309.91L479.92,306.88L483.17,303.79L486.42,300.66L489.67,297.48L492.91,294.26L496.16,290.99L499.41,287.68L502.65,284.33L505.90,280.93" stroke="#e8282e" stroke-width="1.0" fill="none"/>
<path d="M346.80,369.50L350.05,369.75L353.29,369.90L356.54,369.93L359.79,369.86L363.03,369.69L366.28,369.41L369.53,369.03L372.78,368.55L376.02,367.97L379.27,367.29L382.52,366.51L385.76,365.64L389.01,364.67L392.26,363.61L395.50,362.46L398.75,361.21L402.00,359.88L405.24,358.46L408.49,356.95L411.74,355.36L414.99,353.69L418.23,351.93L421.48,350.08L424.73,348.16L427.97,346.16L431.22,344.08L434.47,341.93L437.71,339.70L440.96,337.39L444.21,335.02L447.46,332.57L450.70,330.05L453.95,327.47L457.20,324.81L460.44,322.09L463.69,319.31L466.94,316.46L470.18,313.55L473.43,310.58L476.68,307.55L479.92,304.46L483.17,301.32L486.42,298.11L489.67,294.86L492.91,291.55L496.16,288.19L499.41,284.78L502.65,281.32L505.90,277.81" stroke="#1f5ae6" stroke-width="1.0" fill="none"/>
<path d="M346.80,366.84L350.05,367.07L353.29,367.19L356.54,367.21L359.79,367.13L363.03,366.95L366.28,366.66L369.53,366.28L372.78,365.81L376.02,365.23L379.27,364.57L382.52,363.80L385.76,362.94L389.01,361.99L392.26,360.95L395.50,359.82L398.75,358.60L402.00,357.29L405.24,355.89L408.49,354.40L411.74,352.83L414.99,351.17L418.23,349.43L421.48,347.61L424.73,345.70L427.97,343.72L431.22,341.65L434.47,339.50L437.71,337.28L440.96,334.98L444.21,332.60L447.46,330.15L450.70,327.62L453.95,325.02L457.20,322.35L460.44,319.60L463.69,316.79L466.94,313.90L470.18,310.95L473.43,307.93L476.68,304.84L479.92,301.69L483.17,298.47L486.42,295.19L489.67,291.85L492.91,288.45L496.16,284.98L499.41,281.45L502.65,277.87L505.90,274.23" stroke="#1f9e55" stroke-width="1.0" fill="none"/>
<path d="M346.80,364.20L350.05,364.40L353.29,364.50L356.54,364.50L359.79,364.41L363.03,364.22L366.28,363.94L369.53,363.56L372.78,363.09L376.02,362.52L379.27,361.86L382.52,361.11L385.76,360.27L389.01,359.34L392.26,358.31L395.50,357.20L398.75,356.00L402.00,354.71L405.24,353.33L408.49,351.87L411.74,350.32L414.99,348.68L418.23,346.96L421.48,345.15L424.73,343.26L427.97,341.29L431.22,339.24L434.47,337.10L437.71,334.88L440.96,332.58L444.21,330.20L447.46,327.74L450.70,325.21L453.95,322.59L457.20,319.90L460.44,317.13L463.69,314.29L466.94,311.37L470.18,308.37L473.43,305.30L476.68,302.16L479.92,298.94L483.17,295.65L486.42,292.29L489.67,288.86L492.91,285.36L496.16,281.79L499.41,278.15L502.65,274.44L505.90,270.67" stroke="#b56bea" stroke-width="1.0" fill="none"/>
<path d="M346.80,362.46L350.05,362.64L353.29,362.73L356.54,362.72L359.79,362.62L363.03,362.43L366.28,362.15L369.53,361.77L372.78,361.30L376.02,360.74L379.27,360.09L382.52,359.34L385.76,358.51L389.01,357.59L392.26,356.58L395.50,355.48L398.75,354.29L402.00,353.02L405.24,351.65L408.49,350.20L411.74,348.67L414.99,347.04L418.23,345.33L421.48,343.54L424.73,341.66L427.97,339.70L431.22,337.65L434.47,335.52L437.71,333.30L440.96,331.00L444.21,328.63L447.46,326.16L450.70,323.62L453.95,321.00L457.20,318.29L460.44,315.51L463.69,312.64L466.94,309.70L470.18,306.67L473.43,303.57L476.68,300.39L479.92,297.13L483.17,293.80L486.42,290.39L489.67,286.90L492.91,283.34L496.16,279.70L499.41,275.98L502.65,272.19L505.90,268.33" stroke="#cc9a14" stroke-width="1.0" fill="none"/>
<path d="M346.80,359.22L350.05,359.37L353.29,359.43L356.54,359.40L359.79,359.29L363.03,359.09L366.28,358.80L369.53,358.42L372.78,357.96L376.02,357.40L379.27,356.77L382.52,356.04L385.76,355.23L389.01,354.33L392.26,353.34L395.50,352.26L398.75,351.10L402.00,349.85L405.24,348.51L408.49,347.09L411.74,345.58L414.99,343.98L418.23,342.29L421.48,340.52L424.73,338.66L427.97,336.71L431.22,334.68L434.47,332.56L437.71,330.35L440.96,328.06L444.21,325.68L447.46,323.21L450.70,320.65L453.95,318.01L457.20,315.28L460.44,312.47L463.69,309.57L466.94,306.58L470.18,303.50L473.43,300.34L476.68,297.09L479.92,293.76L483.17,290.33L486.42,286.83L489.67,283.23L492.91,279.55L496.16,275.78L499.41,271.93L502.65,267.99L505.90,263.96" stroke="#1fc8d4" stroke-width="1.0" fill="none"/>
<path d="M346.80,357.20L350.05,357.33L353.29,357.37L356.54,357.33L359.79,357.21L363.03,357.00L366.28,356.71L369.53,356.34L372.78,355.88L376.02,355.33L379.27,354.70L382.52,353.98L385.76,353.18L389.01,352.29L392.26,351.32L395.50,350.26L398.75,349.11L402.00,347.88L405.24,346.56L408.49,345.15L411.74,343.66L414.99,342.07L418.23,340.40L421.48,338.64L424.73,336.80L427.97,334.86L431.22,332.83L434.47,330.72L437.71,328.52L440.96,326.23L444.21,323.84L447.46,321.37L450.70,318.81L453.95,316.16L457.20,313.41L460.44,310.58L463.69,307.65L466.94,304.64L470.18,301.53L473.43,298.33L476.68,295.04L479.92,291.65L483.17,288.18L486.42,284.61L489.67,280.95L492.91,277.19L496.16,273.35L499.41,269.40L502.65,265.37L505.90,261.24" stroke="#6e3d3d" stroke-width="1.0" fill="none"/>
<path d="M346.80,353.59L350.05,353.69L353.29,353.70L356.54,353.64L359.79,353.50L363.03,353.29L366.28,352.99L369.53,352.62L372.78,352.16L376.02,351.63L379.27,351.01L382.52,350.31L385.76,349.53L389.01,348.67L392.26,347.72L395.50,346.69L398.75,345.57L402.00,344.36L405.24,343.07L408.49,341.69L411.74,340.23L414.99,338.67L418.23,337.03L421.48,335.29L424.73,333.47L427.97,331.55L431.22,329.54L434.47,327.44L437.71,325.24L440.96,322.95L444.21,320.57L447.46,318.09L450.70,315.51L453.95,312.84L457.20,310.07L460.44,307.20L463.69,304.24L466.94,301.17L470.18,298.01L473.43,294.74L476.68,291.37L479.92,287.90L483.17,284.33L486.42,280.65L489.67,276.87L492.91,272.99L496.16,269.00L499.41,264.90L502.65,260.70L505.90,256.39" stroke="#8f8f1f" stroke-width="1.0" fill="none"/>
<rect x="344.96" y="370.46" width="3.68" height="3.68" fill="#333333"/>
<circle cx="346.80" cy="370.75" r="2.02" fill="#e8282e"/>
<path d="M346.80,366.30L349.07,370.12L344.53,370.12Z" fill="#1f5ae6"/>
<path d="M346.80,368.50L349.07,364.67L344.53,364.67Z" fill="#1f9e55"/>
<path d="M346.80,361.14L349.19,363.53L346.80,365.92L344.41,363.53Z" fill="#b56bea"/>
<path d="M344.41,360.69L348.24,358.42L348.24,362.96Z" fill="#cc9a14"/>
<path d="M349.19,357.59L345.36,355.32L345.36,359.87Z" fill="#1fc8d4"/>
<circle cx="346.80" cy="354.50" r="2.02" fill="#6e3d3d"/>
<polygon points="346.80,348.31 347.42,350.03 349.25,350.09 347.81,351.21 348.31,352.97 346.80,351.94 345.29,352.97 345.79,351.21 344.35,350.09 346.18,350.03" fill="#8f8f1f"/>
<polygon points="346.80,344.20 348.79,345.35 348.79,347.65 346.80,348.80 344.81,347.65 344.81,345.35" fill="#f76a10"/>
<rect x="364.86" y="375.16" width="3.68" height="3.68" fill="#333333"/>
<circle cx="366.70" cy="375.61" r="2.02" fill="#e8282e"/>
<path d="M366.70,371.36L368.97,375.19L364.43,375.19Z" fill="#1f5ae6"/>
<path d="M366.70,373.82L368.97,370.00L364.43,370.00Z" fill="#1f9e55"/>
<path d="M366.70,366.72L369.09,369.11L366.70,371.50L364.31,369.11Z" fill="#b56bea"/>
<path d="M364.31,366.56L368.14,364.29L368.14,368.83Z" fill="#cc9a14"/>
<path d="M369.09,363.78L365.26,361.50L365.26,366.05Z" fill="#1fc8d4"/>
<circle cx="366.70" cy="360.99" r="2.02" fill="#6e3d3d"/>
<polygon points="366.70,355.17 367.32,356.89 369.15,356.95 367.71,358.07 368.21,359.83 366.70,358.80 365.19,359.83 365.69,358.07 364.25,356.95 366.08,356.89" fill="#8f8f1f"/>
<polygon points="366.70,351.50 368.69,352.65 368.69,354.95 366.70,356.10 364.71,354.95 364.71,352.65" fill="#f76a10"/>
<rect x="384.76" y="367.16" width="3.68" height="3.68" fill="#333333"/>
<circle cx="386.60" cy="367.38" r="2.02" fill="#e8282e"/>
<path d="M386.60,362.83L388.87,366.66L384.33,366.66Z" fill="#1f5ae6"/>
<path d="M386.60,364.91L388.87,361.08L384.33,361.08Z" fill="#1f9e55"/>
<path d="M386.60,357.43L388.99,359.82L386.60,362.21L384.21,359.82Z" fill="#b56bea"/>
<path d="M384.21,356.85L388.04,354.58L388.04,359.12Z" fill="#cc9a14"/>
<path d="M388.99,353.61L385.16,351.34L385.16,355.88Z" fill="#1fc8d4"/>
<circle cx="386.60" cy="350.37" r="2.02" fill="#6e3d3d"/>
<polygon points="386.60,344.01 387.22,345.73 389.05,345.79 387.61,346.92 388.11,348.67 386.60,347.65 385.09,348.67 385.59,346.92 384.15,345.79 385.98,345.73" fill="#8f8f1f"/>
<polygon points="386.60,339.70 388.59,340.85 388.59,343.15 386.60,344.30 384.61,343.15 384.61,340.85" fill="#f76a10"/>
<rect x="404.56" y="365.96" width="3.68" height="3.68" fill="#333333"/>
<circle cx="406.40" cy="366.33" r="2.02" fill="#e8282e"/>
<path d="M406.40,361.98L408.67,365.81L404.13,365.81Z" fill="#1f5ae6"/>
<path d="M406.40,364.31L408.67,360.48L404.13,360.48Z" fill="#1f9e55"/>
<path d="M406.40,357.08L408.79,359.47L406.40,361.86L404.01,359.47Z" fill="#b56bea"/>
<path d="M404.01,356.78L407.84,354.50L407.84,359.05Z" fill="#cc9a14"/>
<path d="M408.79,353.84L404.96,351.56L404.96,356.11Z" fill="#1fc8d4"/>
<circle cx="406.40" cy="350.90" r="2.02" fill="#6e3d3d"/>
<polygon points="406.40,344.89 407.02,346.61 408.85,346.67 407.41,347.79 407.91,349.55 406.40,348.52 404.89,349.55 405.39,347.79 403.95,346.67 405.78,346.61" fill="#8f8f1f"/>
<polygon points="406.40,341.00 408.39,342.15 408.39,344.45 406.40,345.60 404.41,344.45 404.41,342.15" fill="#f76a10"/>
<rect x="424.46" y="345.76" width="3.68" height="3.68" fill="#333333"/>
<circle cx="426.30" cy="346.05" r="2.02" fill="#e8282e"/>
<path d="M426.30,341.60L428.57,345.42L424.03,345.42Z" fill="#1f5ae6"/>
<path d="M426.30,343.80L428.57,339.97L424.03,339.97Z" fill="#1f9e55"/>
<path d="M426.30,336.44L428.69,338.83L426.30,341.22L423.91,338.83Z" fill="#b56bea"/>
<path d="M423.91,335.99L427.74,333.72L427.74,338.26Z" fill="#cc9a14"/>
<path d="M428.69,332.89L424.86,330.62L424.86,335.17Z" fill="#1fc8d4"/>
<circle cx="426.30" cy="329.80" r="2.02" fill="#6e3d3d"/>
<polygon points="426.30,323.61 426.92,325.33 428.75,325.39 427.31,326.51 427.81,328.27 426.30,327.24 424.79,328.27 425.29,326.51 423.85,325.39 425.68,325.33" fill="#8f8f1f"/>
<polygon points="426.30,319.50 428.29,320.65 428.29,322.95 426.30,324.10 424.31,322.95 424.31,320.65" fill="#f76a10"/>
<rect x="444.36" y="321.46" width="3.68" height="3.68" fill="#333333"/>
<circle cx="446.20" cy="322.03" r="2.02" fill="#e8282e"/>
<path d="M446.20,317.95L448.47,321.78L443.93,321.78Z" fill="#1f5ae6"/>
<path d="M446.20,320.63L448.47,316.80L443.93,316.80Z" fill="#1f9e55"/>
<path d="M446.20,313.73L448.59,316.13L446.20,318.52L443.81,316.13Z" fill="#b56bea"/>
<path d="M443.81,313.81L447.64,311.53L447.64,316.08Z" fill="#cc9a14"/>
<path d="M448.59,311.27L444.76,309.00L444.76,313.55Z" fill="#1fc8d4"/>
<circle cx="446.20" cy="308.74" r="2.02" fill="#6e3d3d"/>
<polygon points="446.20,303.21 446.82,304.93 448.65,304.99 447.21,306.11 447.71,307.87 446.20,306.84 444.69,307.87 445.19,306.11 443.75,304.99 445.58,304.93" fill="#8f8f1f"/>
<polygon points="446.20,299.90 448.19,301.05 448.19,303.35 446.20,304.50 444.21,303.35 444.21,301.05" fill="#f76a10"/>
<rect x="464.26" y="331.76" width="3.68" height="3.68" fill="#333333"/>
<circle cx="466.10" cy="332.27" r="2.02" fill="#e8282e"/>
<path d="M466.10,328.11L468.37,331.94L463.83,331.94Z" fill="#1f5ae6"/>
<path d="M466.10,330.69L468.37,326.86L463.83,326.86Z" fill="#1f9e55"/>
<path d="M466.10,323.69L468.49,326.09L466.10,328.48L463.71,326.09Z" fill="#b56bea"/>
<path d="M463.71,323.66L467.54,321.38L467.54,325.93Z" fill="#cc9a14"/>
<path d="M468.49,321.00L464.66,318.73L464.66,323.28Z" fill="#1fc8d4"/>
<circle cx="466.10" cy="318.35" r="2.02" fill="#6e3d3d"/>
<polygon points="466.10,312.68 466.72,314.40 468.55,314.46 467.11,315.58 467.61,317.34 466.10,316.31 464.59,317.34 465.09,315.58 463.65,314.46 465.48,314.40" fill="#8f8f1f"/>
<polygon points="466.10,309.20 468.09,310.35 468.09,312.65 466.10,313.80 464.11,312.65 464.11,310.35" fill="#f76a10"/>
<rect x="484.16" y="312.16" width="3.68" height="3.68" fill="#333333"/>
<circle cx="486.00" cy="312.13" r="2.02" fill="#e8282e"/>
<path d="M486.00,307.25L488.27,311.08L483.73,311.08Z" fill="#1f5ae6"/>
<path d="M486.00,308.93L488.27,305.10L483.73,305.10Z" fill="#1f9e55"/>
<path d="M486.00,301.03L488.39,303.43L486.00,305.82L483.61,303.43Z" fill="#b56bea"/>
<path d="M483.61,300.00L487.44,297.73L487.44,302.28Z" fill="#cc9a14"/>
<path d="M488.39,296.27L484.56,294.00L484.56,298.55Z" fill="#1fc8d4"/>
<circle cx="486.00" cy="292.54" r="2.02" fill="#6e3d3d"/>
<polygon points="486.00,285.61 486.62,287.33 488.45,287.39 487.01,288.51 487.51,290.27 486.00,289.25 484.49,290.27 484.99,288.51 483.55,287.39 485.38,287.33" fill="#8f8f1f"/>
<polygon points="486.00,280.60 487.99,281.75 487.99,284.05 486.00,285.20 484.01,284.05 484.01,281.75" fill="#f76a10"/>
<rect x="504.06" y="276.66" width="3.68" height="3.68" fill="#333333"/>
<circle cx="505.90" cy="276.33" r="2.02" fill="#e8282e"/>
<path d="M505.90,271.04L508.17,274.87L503.63,274.87Z" fill="#1f5ae6"/>
<path d="M505.90,272.20L508.17,268.38L503.63,268.38Z" fill="#1f9e55"/>
<path d="M505.90,263.80L508.29,266.19L505.90,268.58L503.51,266.19Z" fill="#b56bea"/>
<path d="M503.51,262.21L507.34,259.94L507.34,264.48Z" fill="#cc9a14"/>
<path d="M508.29,257.87L504.46,255.59L504.46,260.14Z" fill="#1fc8d4"/>
<circle cx="505.90" cy="253.52" r="2.02" fill="#6e3d3d"/>
<polygon points="505.90,245.88 506.52,247.60 508.35,247.66 506.91,248.78 507.41,250.54 505.90,249.51 504.39,250.54 504.89,248.78 503.45,247.66 505.28,247.60" fill="#8f8f1f"/>
<polygon points="505.90,240.00 507.89,241.15 507.89,243.45 505.90,244.60 503.91,243.45 503.91,241.15" fill="#f76a10"/>
<path d="M346.80,344.60L348.10,348.10L347.45,348.10L347.45,374.30L348.10,374.30L346.80,377.80L345.50,374.30L346.15,374.30L346.15,348.10L345.50,348.10Z" fill="#ff1aff"/>
<path d="M505.90,247.70L507.20,251.20L506.55,251.20L506.55,276.50L507.20,276.50L505.90,280.00L504.60,276.50L505.25,276.50L505.25,251.20L504.60,251.20Z" fill="#ff1aff"/>
</svg>
</body></html>
